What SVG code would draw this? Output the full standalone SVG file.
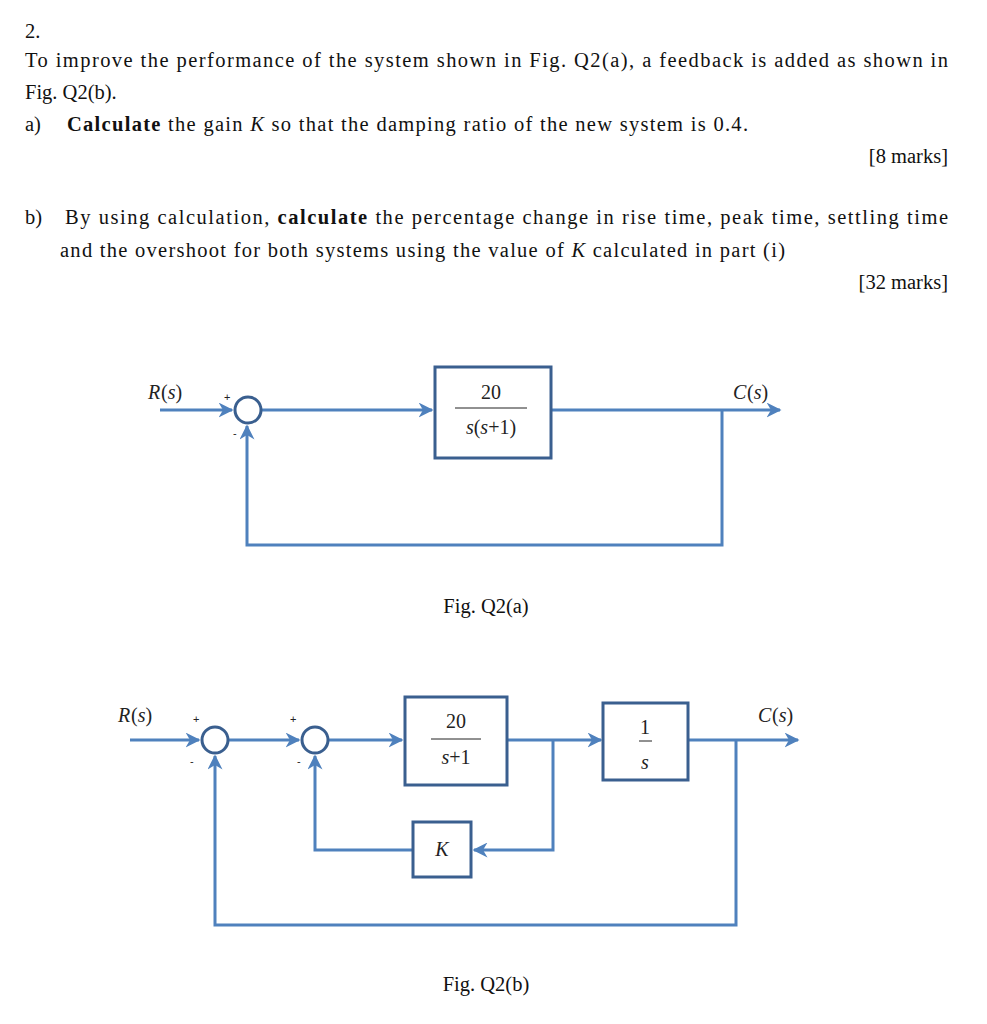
<svg xmlns="http://www.w3.org/2000/svg" width="987" height="1024" viewBox="0 0 987 1024">
<style>
.t{font-family:"Liberation Serif",serif;font-size:20.5px;fill:#111}
.m{font-family:"Liberation Serif",serif;font-size:20px;fill:#222}
.s{font-family:"Liberation Sans",sans-serif;font-size:11px;fill:#222}
.w{stroke:#4f81bd;stroke-width:3;fill:none}
.b{stroke:#3a5f8f;stroke-width:3;fill:#fff}
.c{stroke:#3a5f8f;stroke-width:3;fill:#fff}
</style>
<defs><marker id="a" viewBox="0 0 10 10" refX="9" refY="5" markerWidth="5" markerHeight="5" orient="auto"><path d="M0,0L10,5L0,10L3,5Z" fill="#4f81bd"/></marker></defs>
<rect width="987" height="1024" fill="#fff"/>
<text class="t" x="25" y="38">2.</text>
<text class="t" x="25" y="67" textLength="923" lengthAdjust="spacing">To improve the performance of the system shown in Fig. Q2(a), a feedback is added as shown in</text>
<text class="t" x="25" y="99">Fig. Q2(b).</text>
<text class="t" x="25" y="131">a)</text>
<text class="t" x="67" y="131" textLength="681" lengthAdjust="spacing"><tspan font-weight="bold">Calculate</tspan> the gain <tspan font-style="italic">K</tspan> so that the damping ratio of the new system is 0.4.</text>
<text class="t" x="948" y="163" text-anchor="end">[8 marks]</text>
<text class="t" x="25" y="224">b)</text>
<text class="t" x="65" y="224" textLength="883" lengthAdjust="spacing">By using calculation, <tspan font-weight="bold">calculate</tspan> the percentage change in rise time, peak time, settling time</text>
<text class="t" x="60" y="257" textLength="725" lengthAdjust="spacing">and the overshoot for both systems using the value of <tspan font-style="italic">K</tspan> calculated in part (i)</text>
<text class="t" x="948" y="289" text-anchor="end">[32 marks]</text>
<g id="connectors-a">
<path class="w" d="M160,410H232" marker-end="url(#a)"/>
<path class="w" d="M261,410H432" marker-end="url(#a)"/>
<path class="w" d="M551,410H780" marker-end="url(#a)"/>
<path class="w" d="M722,410V545H247V426" marker-end="url(#a)"/>
</g>
<g id="sum-a"><circle class="c" cx="248" cy="410" r="13"/><text class="s" x="224" y="401">+</text><text class="s" x="233" y="437">-</text></g>
<g id="block-a"><rect class="b" x="435" y="367" width="116" height="91"/>
<text class="m" x="491" y="399" text-anchor="middle">20</text><line x1="455" y1="408" x2="527" y2="408" stroke="#222" stroke-width="1"/>
<text class="m" x="491" y="434" text-anchor="middle" font-size="22"><tspan font-style="italic">s</tspan>(<tspan font-style="italic">s</tspan>+1)</text></g>
<text class="m" x="148" y="399" font-style="italic">R</text><text class="m" x="161" y="399">(<tspan font-style="italic">s</tspan>)</text>
<text class="m" x="733" y="399" font-style="italic">C</text><text class="m" x="747" y="399">(<tspan font-style="italic">s</tspan>)</text>
<text class="t" x="486" y="613" text-anchor="middle">Fig. Q2(a)</text>
<g id="connectors-b">
<path class="w" d="M130,740H199" marker-end="url(#a)"/>
<path class="w" d="M228,740H299" marker-end="url(#a)"/>
<path class="w" d="M328,740H402" marker-end="url(#a)"/>
<path class="w" d="M507,740H601" marker-end="url(#a)"/>
<path class="w" d="M688,740H798" marker-end="url(#a)"/>
<path class="w" d="M553,740V850H474" marker-end="url(#a)"/>
<path class="w" d="M413,850H315V756" marker-end="url(#a)"/>
<path class="w" d="M736,740V925H215V756" marker-end="url(#a)"/>
</g>
<g id="sum-b1"><circle class="c" cx="215" cy="740" r="13"/><text class="s" x="193" y="723">+</text><text class="s" x="190" y="765">-</text></g>
<g id="sum-b2"><circle class="c" cx="315" cy="740" r="13"/><text class="s" x="290" y="723">+</text><text class="s" x="297" y="765">-</text></g>
<g id="block-b1"><rect class="b" x="405" y="697" width="102" height="88"/>
<text class="m" x="456" y="728" text-anchor="middle">20</text><line x1="431" y1="739" x2="481" y2="739" stroke="#222" stroke-width="1"/>
<text class="m" x="456" y="764" text-anchor="middle"><tspan font-style="italic">s</tspan>+1</text></g>
<g id="block-b2"><rect class="b" x="603" y="703" width="85" height="77"/>
<text class="m" x="645" y="734" text-anchor="middle" font-size="17">1</text><line x1="639" y1="741" x2="652" y2="741" stroke="#222" stroke-width="1"/>
<text class="m" x="645" y="769" text-anchor="middle" font-style="italic" font-size="17">s</text></g>
<g id="block-k"><rect class="b" x="413" y="822" width="58" height="55"/>
<text class="m" x="442" y="856" text-anchor="middle" font-style="italic">K</text></g>
<text class="m" x="118" y="722" font-style="italic">R</text><text class="m" x="131" y="722">(<tspan font-style="italic">s</tspan>)</text>
<text class="m" x="758" y="722" font-style="italic">C</text><text class="m" x="772" y="722">(<tspan font-style="italic">s</tspan>)</text>
<text class="t" x="486" y="991" text-anchor="middle">Fig. Q2(b)</text>
</svg>
